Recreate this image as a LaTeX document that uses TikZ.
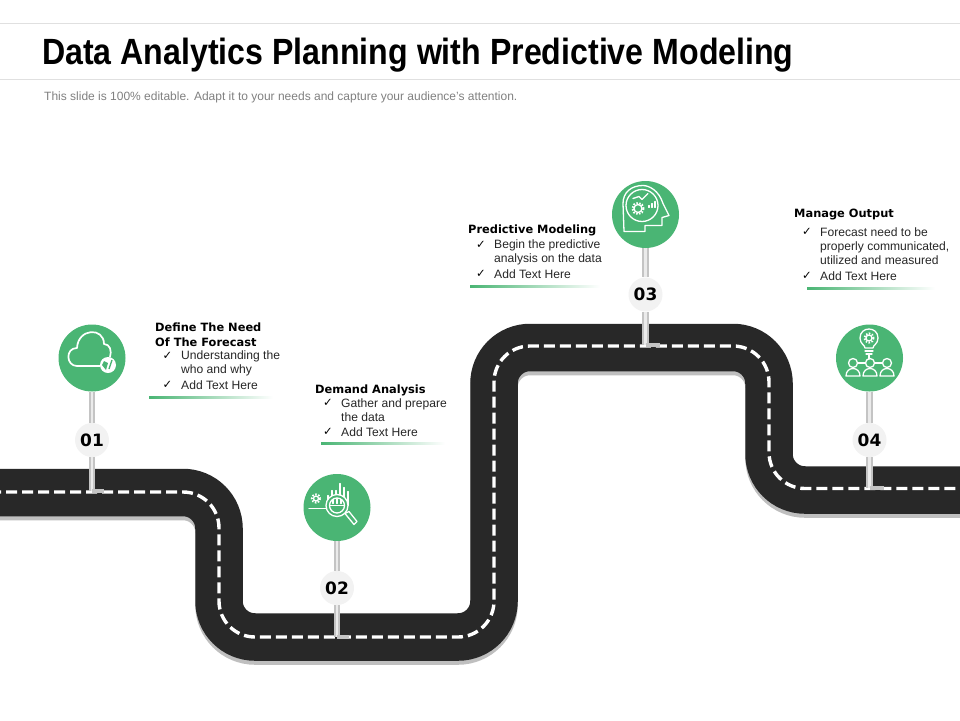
\documentclass[tikz,border=0pt]{standalone}
\usepackage{fontspec}
\setmainfont{Liberation Sans}
\newfontfamily\headfont{DejaVu Sans}
\newfontfamily\titlefont[FakeStretch=0.88]{Liberation Sans}
\usetikzlibrary{backgrounds}
\definecolor{roadblack}{HTML}{282828}
\definecolor{pingreen}{HTML}{4AB574}
\definecolor{postgray}{HTML}{C4C4C4}
\tikzset{
  title/.style={anchor=west, inner sep=0pt, font=\titlefont\bfseries\fontsize{36.5}{40}\selectfont},
  subtitle/.style={anchor=west, inner sep=0pt, text=black!50, font=\fontsize{12}{14}\selectfont},
  head/.style={anchor=west, inner sep=0pt, align=left, font=\headfont\bfseries\fontsize{11.4}{15.5}\selectfont},
  item/.style={anchor=west, inner sep=0pt, align=left, text=black!85, font=\fontsize{12.1}{14}\selectfont},
  tick/.style={anchor=center, inner sep=0pt, font=\headfont\fontsize{11.5}{12}\selectfont},
  pin/.style={circle, fill=pingreen, minimum size=67pt, inner sep=0pt},
  badge/.style={circle, fill=black!5, minimum size=34pt, inner sep=0pt, font=\headfont\bfseries\fontsize{17}{20}\selectfont},
  post/.style={draw=postgray, line width=1.8pt, double=black!8, double distance=2.6pt},
  footing/.style={draw=postgray, line width=3.5pt},
  iconline/.style={draw=white, line width=1.3pt, line join=round, line cap=round},
  gearicon/.pic={
    \draw[iconline] (0,0) circle (#1);
    \draw[draw=white, line width=2pt, dash pattern=on 1.5pt off 1.5pt] (0,0) circle (#1+1.6);
  }
}
\begin{document}
\begin{tikzpicture}[x=1pt, y=-1pt]
    \useasboundingbox (0,0) rectangle (960,720);

    % --- 1. header ---
    \draw[black!12] (0,23) -- (960,23);
    \draw[black!12] (0,79) -- (960,79);
    \node[title] (heading) at (42,55) {Data Analytics Planning with Predictive Modeling};
    \node[subtitle] (subheading) at (44,97.5) {This slide is 100\% editable. Adapt it to your needs and capture your audience's attention.};

    % --- 2. road ---
    \begin{scope}[on background layer, rounded corners=36pt]
      \draw[black!25, line width=47.5pt, shift={(0,4)}] (-10,492.5) -- (219,492.5) -- (219,637) -- (494,637) -- (494,347.5) -- (769,347.5) -- (769,490) -- (970,490);
      \draw[roadblack, line width=47.5pt] (-10,492.5) -- (219,492.5) -- (219,637) -- (494,637) -- (494,347.5) -- (769,347.5) -- (769,490) -- (970,490);
      \draw[white, line width=3.4pt, dash pattern=on 11pt off 5pt] (-10,492) -- (219,492) -- (219,637) -- (494,637) -- (494,346) -- (769,346) -- (769,488.5) -- (970,488.5);
    \end{scope}

    % --- 3. pins ---
    \coordinate (foot1) at (92,491);
    \coordinate (foot2) at (337,637);
    \coordinate (foot3) at (645.5,345);
    \coordinate (foot4) at (869.5,488);

    \node[pin] (pin1) at (92,358) {};
    \node[pin] (pin2) at (337,507.5) {};
    \node[pin] (pin3) at (645.5,214.5) {};
    \node[pin] (pin4) at (869.5,358) {};

    \node[badge] (badge1) at (92,440) {01};
    \node[badge] (badge2) at (337,588) {02};
    \node[badge] (badge3) at (645.5,294.5) {03};
    \node[badge] (badge4) at (869.5,440) {04};

    \begin{scope}[on background layer]
      \draw[post] (pin1) -- (badge1);
      \draw[post] (badge1) -- (foot1);
      \draw[post] (pin2) -- (badge2);
      \draw[post] (badge2) -- (foot2);
      \draw[post] (pin3) -- (badge3);
      \draw[post] (badge3) -- (foot3);
      \draw[post] (pin4) -- (badge4);
      \draw[post] (badge4) -- (foot4);
      \draw[footing] (foot1) -- +(12,0);
      \draw[footing] (foot2) -- +(12,0);
      \draw[footing] (foot3) -- +(14,0);
      \draw[footing] (foot4) -- +(14,0);
    \end{scope}

    % --- 4. icons ---
    % cloud
    \begin{scope}[shift={(91,358)}]
      \draw[iconline, line width=1.7pt] (9,8) -- (-14,8) .. controls (-25,8) and (-26,-10) .. (-14,-10) .. controls (-13,-30) and (13,-31) .. (13,-14) .. controls (19,-14) and (21,-7) .. (19,-1);
      \fill[white] (17,7) circle (8);
      \fill[pingreen] (13,3) -- (17,5) -- (15,12) -- (11,7) -- cycle;
      \draw[pingreen, line width=1.4pt] (21,2) -- (18,11);
    \end{scope}
    % magnifier over bars
    \begin{scope}[shift={(336,507.5)}]
      \pic at (-20,-9) {gearicon=2.5};
      \draw[iconline] (-27,1) -- (-10,1);
      \draw[iconline] (-8,-2) -- (-8,-12);
      \draw[iconline] (-4,-6) -- (-4,-17);
      \draw[iconline] (0,-8) -- (0,-17);
      \draw[iconline] (4,-8) -- (4,-24);
      \draw[iconline] (8,-8) -- (8,-20);
      \draw[iconline] (12,-2) -- (12,-16);
      \draw[iconline, fill=pingreen] (1,-2) circle (11);
      \draw[iconline] (1,-2) circle (7.5);
      \draw[iconline] (-6,-2) -- (8,-2);
      \draw[iconline] (-3,-4) -- (-3,-8);
      \draw[iconline] (1,-4) -- (1,-9);
      \draw[iconline] (5,-4) -- (5,-8);
      \draw[iconline] (9,6) -- (13,4) -- (21,14) -- (18,17) -- cycle;
    \end{scope}
    % head with gear and chart
    \begin{scope}[shift={(645,214.5)}]
      \draw[iconline] (-21,17) -- (0,17) -- (0,11) -- (17,11) -- (17,3) -- (24,1) -- (18,-11) .. controls (14,-24) and (4,-29) .. (-2,-29) .. controls (-14,-29) and (-22,-22) .. (-22,-11) -- cycle;
      \draw[iconline] (-3,-9) circle (16);
      \pic at (-7,-6) {gearicon=4};
      \draw[iconline] (-12,-16) -- (-6,-18) -- (-3,-15) -- (3,-21);
      \draw[iconline] (4,-7) -- (4,-9);
      \draw[iconline] (7,-7) -- (7,-11);
      \draw[iconline] (10,-7) -- (10,-13);
    \end{scope}
    % bulb over three people
    \begin{scope}[shift={(869,358)}]
      \draw[iconline] (-4,-10) .. controls (-4,-13) and (-9,-14) .. (-9,-20) .. controls (-9,-32) and (9,-32) .. (9,-20) .. controls (9,-14) and (4,-13) .. (4,-10) -- cycle;
      \pic at (0,-20) {gearicon=3};
      \draw[iconline] (-4,-7) -- (4,-7);
      \draw[iconline] (-3,-4) -- (3,-4);
      \draw[iconline] (0,-4) -- (0,1);
      \draw[iconline] (-16,5) circle (4.5);
      \draw[iconline] (1,5) circle (4.5);
      \draw[iconline] (18,5) circle (4.5);
      \draw[iconline] (-11,5) -- (-4,5);
      \draw[iconline] (6,5) -- (13,5);
      \draw[iconline] (-23,18) .. controls (-23,8) and (-9,8) .. (-9,18) -- cycle;
      \draw[iconline] (-6,18) .. controls (-6,8) and (8,8) .. (8,18) -- cycle;
      \draw[iconline] (11,18) .. controls (11,8) and (25,8) .. (25,18) -- cycle;
    \end{scope}

    % --- 5. texts ---
    % 01
    \node[head] (head1) at (155,334.5) {Define The Need\\Of The Forecast};
    \node[tick] (tick1a) at (167.5,356) {✓};
    \node[item] (item1a) at (181,363.5) {Understanding the\\who and why};
    \node[tick] (tick1b) at (167.5,385) {✓};
    \node[item] (item1b) at (181,385.5) {Add Text Here};
    \shade[left color=pingreen, right color=white] (149,396) rectangle (273,398.5);
    % 02
    \node[head] (head2) at (315,390) {Demand Analysis};
    \node[tick] (tick2a) at (328,403) {✓};
    \node[item] (item2a) at (341,410.5) {Gather and prepare\\the data};
    \node[tick] (tick2b) at (328,432) {✓};
    \node[item] (item2b) at (341,432.5) {Add Text Here};
    \shade[left color=pingreen, right color=white] (321,442) rectangle (445,444.5);
    % 03
    \node[head] (head3) at (468,230) {Predictive Modeling};
    \node[tick] (tick3a) at (481,245) {✓};
    \node[item] (item3a) at (494,252.5) {Begin the predictive\\analysis on the data};
    \node[tick] (tick3b) at (481,274) {✓};
    \node[item] (item3b) at (494,274.5) {Add Text Here};
    \shade[left color=pingreen, right color=white] (470,285) rectangle (600,287.5);
    % 04
    \node[head] (head4) at (794,214) {Manage Output};
    \node[tick] (tick4a) at (807,232) {✓};
    \node[item] (item4a) at (820,246.5) {Forecast need to be\\properly communicated,\\utilized and measured};
    \node[tick] (tick4b) at (807,276) {✓};
    \node[item] (item4b) at (820,276.5) {Add Text Here};
    \shade[left color=pingreen, right color=white] (807,287) rectangle (935,289.5);

\end{tikzpicture}
\end{document}
